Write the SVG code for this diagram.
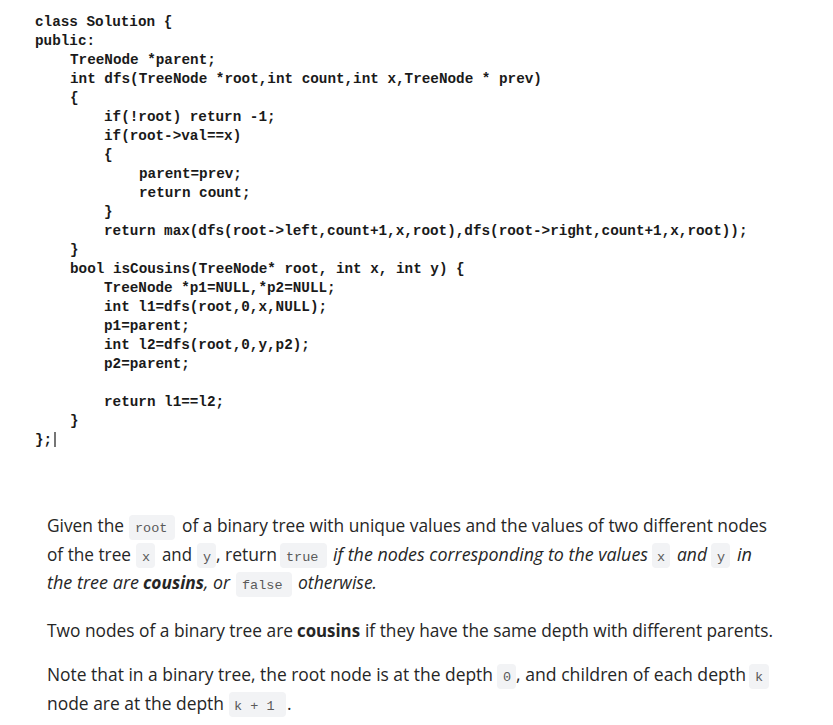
<svg xmlns="http://www.w3.org/2000/svg" width="833" height="725" viewBox="0 0 833 725">
<style>
.c{font-family:"Liberation Mono","DejaVu Sans Mono",monospace;font-weight:bold;font-size:14.3px;fill:#1a1a1a}
.p{font-family:"Open Sans","Noto Sans",sans-serif;font-size:17.5px;fill:#262626}
.i{font-style:italic}
.b{font-weight:bold}
.k{font-family:"Liberation Mono","DejaVu Sans Mono",monospace;font-size:13.5px;fill:#5a5a5a}
.bx{fill:#f2f3f5}
</style>
<rect width="833" height="725" fill="#fff"/>
<g id="code">
<text class="c" x="35" y="26">class Solution {</text>
<text class="c" x="35" y="45">public:</text>
<text class="c" x="70" y="64">TreeNode *parent;</text>
<text class="c" x="70" y="83">int dfs(TreeNode *root,int count,int x,TreeNode * prev)</text>
<text class="c" x="70" y="102">{</text>
<text class="c" x="104" y="121">if(!root) return -1;</text>
<text class="c" x="104" y="140">if(root-&gt;val==x)</text>
<text class="c" x="104" y="159">{</text>
<text class="c" x="139" y="178">parent=prev;</text>
<text class="c" x="139" y="197">return count;</text>
<text class="c" x="104" y="216">}</text>
<text class="c" x="104" y="235">return max(dfs(root-&gt;left,count+1,x,root),dfs(root-&gt;right,count+1,x,root));</text>
<text class="c" x="70" y="254">}</text>
<text class="c" x="70" y="273">bool isCousins(TreeNode* root, int x, int y) {</text>
<text class="c" x="104" y="292">TreeNode *p1=NULL,*p2=NULL;</text>
<text class="c" x="104" y="311">int l1=dfs(root,0,x,NULL);</text>
<text class="c" x="104" y="330">p1=parent;</text>
<text class="c" x="104" y="349">int l2=dfs(root,0,y,p2);</text>
<text class="c" x="104" y="368">p2=parent;</text>
<text class="c" x="104" y="406">return l1==l2;</text>
<text class="c" x="70" y="425">}</text>
<text class="c" x="35" y="444">};</text>
<line x1="55" y1="432" x2="55" y2="447" stroke="#1a1a1a" stroke-width="1.2"/>
</g>
<g id="description">
<rect class="bx" x="129" y="515" width="46" height="25" rx="4"/>
<rect class="bx" x="136" y="543" width="19" height="25" rx="4"/>
<rect class="bx" x="197" y="543" width="19" height="25" rx="4"/>
<rect class="bx" x="280" y="543" width="47" height="25" rx="4"/>
<rect class="bx" x="652" y="543" width="18" height="25" rx="4"/>
<rect class="bx" x="711" y="543" width="19" height="25" rx="4"/>
<rect class="bx" x="236" y="572" width="56" height="25" rx="4"/>
<rect class="bx" x="497" y="664" width="19" height="25" rx="4"/>
<rect class="bx" x="749" y="664" width="20" height="25" rx="4"/>
<rect class="bx" x="229" y="692" width="57" height="25" rx="4"/>

<text class="p" x="47" y="532" textLength="77" lengthAdjust="spacingAndGlyphs">Given the</text>
<text class="k" x="135" y="532">root</text>
<text class="p" x="182" y="532" textLength="585" lengthAdjust="spacingAndGlyphs">of a binary tree with unique values and the values of two different nodes</text>

<text class="p" x="47" y="561" textLength="84" lengthAdjust="spacingAndGlyphs">of the tree</text>
<text class="k" x="142" y="561">x</text>
<text class="p" x="162" y="561" textLength="30" lengthAdjust="spacingAndGlyphs">and</text>
<text class="k" x="203" y="561">y</text>
<text class="p" x="216" y="561" textLength="61" lengthAdjust="spacingAndGlyphs">, return</text>
<text class="k" x="286" y="561">true</text>
<text class="p i" x="333" y="561" textLength="315" lengthAdjust="spacingAndGlyphs">if the nodes corresponding to the values</text>
<text class="k" x="657" y="561">x</text>
<text class="p i" x="677" y="561" textLength="30" lengthAdjust="spacingAndGlyphs">and</text>
<text class="k" x="717" y="561">y</text>
<text class="p i" x="737" y="561" textLength="15" lengthAdjust="spacingAndGlyphs">in</text>

<text class="p i" x="47" y="589" textLength="92" lengthAdjust="spacingAndGlyphs">the tree are</text>
<text class="p i b" x="143" y="589" textLength="61" lengthAdjust="spacingAndGlyphs">cousins</text>
<text class="p i" x="204" y="589" textLength="26" lengthAdjust="spacingAndGlyphs">, or</text>
<text class="k" x="242" y="589">false</text>
<text class="p i" x="298" y="589" textLength="79" lengthAdjust="spacingAndGlyphs">otherwise.</text>

<text class="p" x="47" y="637" textLength="246" lengthAdjust="spacingAndGlyphs">Two nodes of a binary tree are</text>
<text class="p b" x="297" y="637" textLength="63" lengthAdjust="spacingAndGlyphs">cousins</text>
<text class="p" x="365" y="637" textLength="408" lengthAdjust="spacingAndGlyphs">if they have the same depth with different parents.</text>

<text class="p" x="47" y="681" textLength="446" lengthAdjust="spacingAndGlyphs">Note that in a binary tree, the root node is at the depth</text>
<text class="k" x="503" y="681">0</text>
<text class="p" x="516" y="681" textLength="230" lengthAdjust="spacingAndGlyphs">, and children of each depth</text>
<text class="k" x="755" y="681">k</text>

<text class="p" x="47" y="710" textLength="177" lengthAdjust="spacingAndGlyphs">node are at the depth</text>
<text class="k" x="234" y="710">k + 1</text>
<text class="p" x="287" y="710">.</text>
</g>
</svg>
